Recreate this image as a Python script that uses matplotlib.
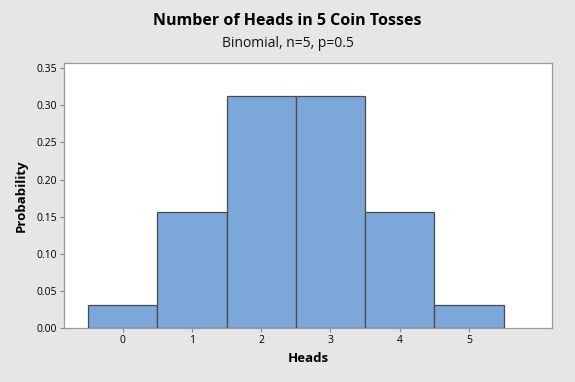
import matplotlib
matplotlib.use("Agg")
import matplotlib.pyplot as plt

heads = [0, 1, 2, 3, 4, 5]
probability = [0.03125, 0.15625, 0.3125, 0.3125, 0.15625, 0.03125]
yticks = [0.00, 0.05, 0.10, 0.15, 0.20, 0.25, 0.30, 0.35]

plt.rcParams['font.family'] = ['Open Sans', 'DejaVu Sans']

fig = plt.figure(figsize=(5.75, 3.82), dpi=100, facecolor='#e6e6e6')
ax = fig.add_axes([0.111, 0.141, 0.849, 0.694])
ax.bar(heads, probability, width=1.0, color='#7ba7d9', edgecolor='#4a4a4a', linewidth=0.9)

ax.set_xlim(-0.85, 6.2)
ax.set_ylim(0, 0.357)
ax.set_xticks(heads)
ax.set_yticks(yticks)
ax.set_yticklabels([f"{v:.2f}" for v in yticks])
ax.tick_params(labelsize=7.5, length=3, color='#888888', width=0.8, pad=2)
for s in ax.spines.values():
    s.set_color('#9a9a9a')
    s.set_linewidth(0.9)

ax.set_xlabel('Heads', fontsize=9.5, fontweight='bold', labelpad=4)
ax.set_ylabel('Probability', fontsize=9.5, fontweight='bold', labelpad=6)

fig.text(0.5, 0.945, 'Number of Heads in 5 Coin Tosses', ha='center', va='center',
         fontsize=11.5, fontweight='bold')
fig.text(0.5, 0.885, 'Binomial, n=5, p=0.5', ha='center', va='center', fontsize=10,
         fontweight='medium', color='#111111')

fig.savefig('out.png', dpi=100, facecolor=fig.get_facecolor())
